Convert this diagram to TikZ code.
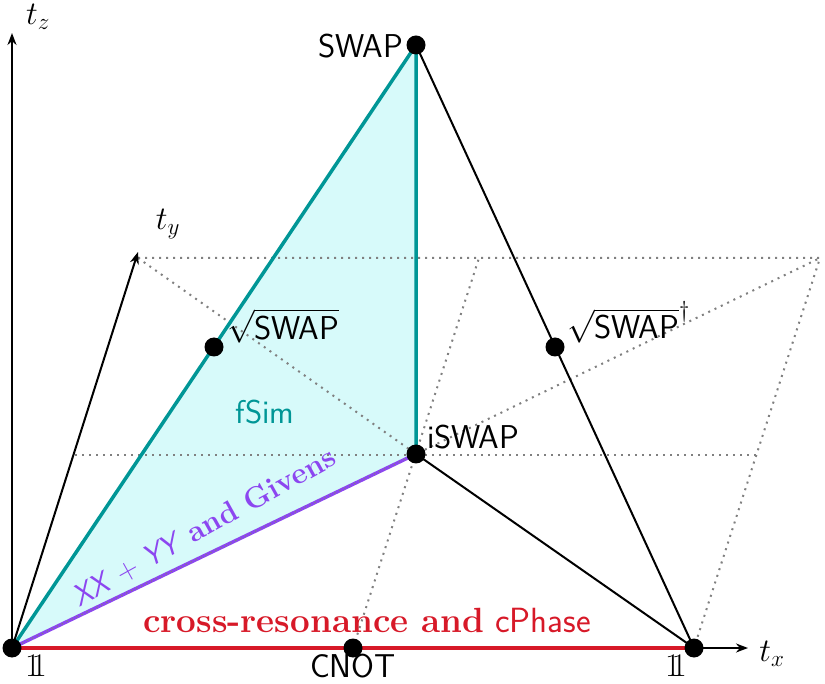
\RequirePackage{fix-cm}
\documentclass[tikz,border=0pt]{standalone}
\usepackage{amsmath}
\usetikzlibrary{arrows.meta}
\newcommand{\myone}{\mathrm{1\kern-0.26em 1}}
\begin{document}
\begin{tikzpicture}[x=1pt,y=-1pt,
  dot/.style={circle,fill=black,inner sep=0pt,minimum size=19pt},
  lab/.style={font=\fontsize{33}{35}\selectfont\sffamily},
  mth/.style={font=\fontsize{33}{35}\selectfont},
  dotted gray/.style={gray,line width=2pt,dash pattern=on 2pt off 5pt},
  ax/.style={line width=2pt,-{Stealth[length=12pt]}}]
\useasboundingbox (0,0) rectangle (825,684);
\definecolor{myteal}{RGB}{0,150,150}
\definecolor{mypurple}{RGB}{140,70,240}
\definecolor{myred}{RGB}{215,25,40}
\definecolor{myfill}{RGB}{215,250,250}
\coordinate (I) at (12,648);
\coordinate (I2) at (694,648);
\coordinate (C) at (353,648);
\coordinate (S) at (416,45);
\coordinate (iS) at (416,454);
\coordinate (rS) at (214,347);
\coordinate (rSd) at (555,347);
\coordinate (ty) at (138,252);
\coordinate (tl) at (138,258);
\coordinate (tr) at (820,258);
\coordinate (ml) at (75,455);
\coordinate (mr) at (757,455);
\coordinate (tc) at (479,258);
\coordinate (tzend) at (12,33);
\coordinate (txend) at (748,648);
\fill[myfill] (I) -- (S) -- (iS) -- cycle;
\draw[dotted gray] (tl) -- (tr) -- (I2);
\draw[dotted gray] (ml) -- (mr);
\draw[dotted gray] (tl) -- (iS) -- (tr);
\draw[dotted gray] (C) -- (tc);
\draw[ax] (I) -- (tzend);
\node[mth] (tz) at (38,17) {$t_z$};
\draw[ax] (I) -- (txend);
\node[mth] (tx) at (772,654) {$t_x$};
\draw[ax] (I) -- (ty);
\node[mth] (tyl) at (168,224) {$t_y$};
\draw[line width=2pt] (S) -- (I2) (iS) -- (I2);
\draw[myteal,line width=3.5pt] (I) -- (S) -- (iS);
\draw[mypurple,line width=3.5pt] (I) -- (iS);
\draw[gray,line width=1pt,dash pattern=on 1.5pt off 4pt] (I) -- (iS);
\draw[myred,line width=3.5pt] (I) -- (I2);
\node[dot] (nI) at (I) {};
\node[dot] (nI2) at (I2) {};
\node[dot] (nC) at (C) {};
\node[dot] (nS) at (S) {};
\node[dot] (niS) at (iS) {};
\node[dot] (nrS) at (rS) {};
\node[dot] (nrSd) at (rSd) {};
\node[lab,anchor=east,inner sep=1pt] (lS) at (404,46) {SWAP};
\node[lab,anchor=south west,inner sep=1pt] (liS) at (426,450) {iSWAP};
\node[lab,anchor=west,inner sep=1pt] (lrS) at (226,326) {$\sqrt{\text{\sffamily SWAP}}$};
\node[lab,anchor=west,inner sep=1pt] (lrSd) at (566,322) {$\sqrt{\text{\sffamily SWAP}}^{\dagger}$};
\node[lab] (lC) at (353,666) {CNOT};
\node[mth] (l1) at (36,666) {$\myone$};
\node[mth] (l2) at (676,666) {$\myone$};
\node[lab,myteal] (lf) at (265,412) {fSim};
\node[myred,font=\fontsize{35}{37}\selectfont] (lcr) at (367,620) {\textbf{cross-resonance and} \textsf{cPhase}};
\node[mypurple,font=\fontsize{30}{32}\selectfont,rotate=29] (lxx) at (204,527) {\textsf{\slshape XX} $+$ \textsf{\slshape YY} \textbf{and Givens}};
\end{tikzpicture}
\end{document}
